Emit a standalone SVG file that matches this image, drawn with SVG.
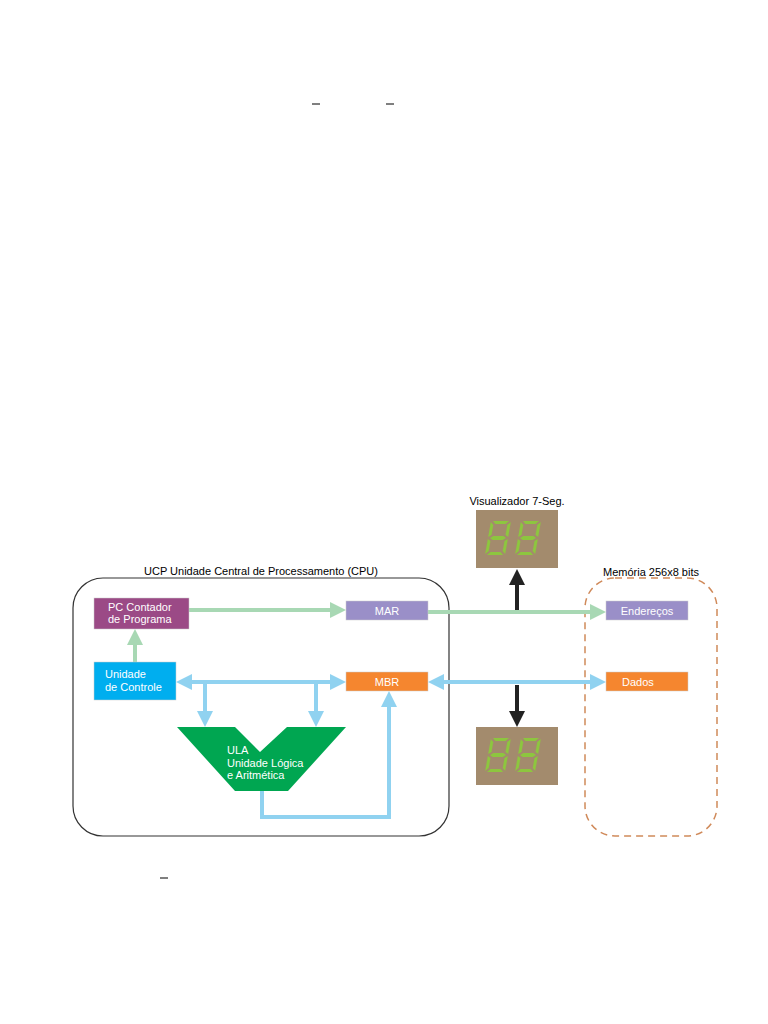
<svg xmlns="http://www.w3.org/2000/svg" width="768" height="1024" viewBox="0 0 768 1024">
<style>
text{font-family:"Liberation Sans",Arial,sans-serif;font-size:11px}
.w{fill:#fff}
.g{fill:none;stroke:#a8d8b4;stroke-width:4}
.b{fill:none;stroke:#90d2f0;stroke-width:4}
.k{fill:none;stroke:#222;stroke-width:4}
.seg{fill:#8dc63f}
</style>
<defs>
<marker id="ag" markerWidth="4" markerHeight="4" refX="3" refY="2" orient="auto" markerUnits="strokeWidth"><path d="M0,0L4,2L0,4z" fill="#a8d8b4"/></marker>
<marker id="ab" markerWidth="4" markerHeight="4" refX="3" refY="2" orient="auto-start-reverse" markerUnits="strokeWidth"><path d="M0,0L4,2L0,4z" fill="#90d2f0"/></marker>
<marker id="ak" markerWidth="4" markerHeight="4" refX="3" refY="2" orient="auto" markerUnits="strokeWidth"><path d="M0,0L4,2L0,4z" fill="#222"/></marker>
<g id="digit">
<g transform="skewX(-10)">
<polygon class="seg" points="3,0 19,0 16,3 6,3"/>
<polygon class="seg" points="3,17 6,15 16,15 19,17 16,19 6,19"/>
<polygon class="seg" points="3,34 19,34 16,31 6,31"/>
<polygon class="seg" points="1,1 4,4 4,14 1,16"/>
<polygon class="seg" points="21,1 18,4 18,14 21,16"/>
<polygon class="seg" points="1,18 4,20 4,30 1,33"/>
<polygon class="seg" points="21,18 18,20 18,30 21,33"/>
</g>
</g>
</defs>
<rect width="768" height="1024" fill="#fff"/>
<g stroke="#000" stroke-width="1"><line x1="312" y1="104" x2="320" y2="104"/><line x1="386" y1="104" x2="394" y2="104"/><line x1="160" y1="878" x2="168" y2="878"/></g>
<g id="cpu"><rect x="73" y="578" width="376" height="258" rx="30" fill="none" stroke="#333" stroke-width="1.2"/><text x="261" y="575" text-anchor="middle">UCP Unidade Central de Processamento (CPU)</text></g>
<g id="mem"><rect x="585" y="578" width="132" height="258" rx="30" fill="none" stroke="#d08a5a" stroke-width="1.5" stroke-dasharray="7,5"/><text x="651" y="576" text-anchor="middle">Memória 256x8 bits</text></g>
<g id="connectors">
<line class="g" x1="189" y1="610" x2="342" y2="610" marker-end="url(#ag)"/>
<line class="g" x1="135" y1="662" x2="135" y2="633" marker-end="url(#ag)"/>
<line class="g" x1="428" y1="612" x2="602" y2="612" marker-end="url(#ag)"/>
<line class="b" x1="180" y1="682" x2="342" y2="682" marker-start="url(#ab)" marker-end="url(#ab)"/>
<line class="b" x1="205" y1="682" x2="205" y2="723" marker-end="url(#ab)"/>
<line class="b" x1="316" y1="682" x2="316" y2="723" marker-end="url(#ab)"/>
<polyline class="b" points="262,791 262,817 389,817 389,695" marker-end="url(#ab)"/>
<line class="b" x1="432" y1="682" x2="602" y2="682" marker-start="url(#ab)" marker-end="url(#ab)"/>
<line class="k" x1="517" y1="610" x2="517" y2="573" marker-end="url(#ak)"/>
<line class="k" x1="517" y1="685" x2="517" y2="723" marker-end="url(#ak)"/>
</g>
<g id="pc"><rect x="94" y="598" width="95" height="31" fill="#9b4a86" stroke="#ccc" stroke-width="0.5"/><text class="w" x="108" y="611">PC Contador</text><text class="w" x="108" y="623">de Programa</text></g>
<g id="mar"><rect x="346" y="601" width="82" height="19" fill="#9a8fc8" stroke="#ccc" stroke-width="0.5"/><text class="w" x="387" y="615" text-anchor="middle">MAR</text></g>
<g id="uc"><rect x="94" y="662" width="82" height="38" fill="#00aeef" stroke="#ccc" stroke-width="0.5"/><text class="w" x="105" y="678">Unidade</text><text class="w" x="105" y="691">de Controle</text></g>
<g id="mbr"><rect x="346" y="672" width="82" height="19" fill="#f5862f" stroke="#ccc" stroke-width="0.5"/><text class="w" x="387" y="686" text-anchor="middle">MBR</text></g>
<g id="ula"><polygon points="177,727 235,727 260,752 287,727 346,727 288,791 235,791" fill="#00a651"/><text class="w" x="227" y="754">ULA</text><text class="w" x="227" y="767">Unidade Lógica</text><text class="w" x="227" y="779">e Aritmética</text></g>
<g id="end"><rect x="606" y="601" width="82" height="19" fill="#9a8fc8" stroke="#ccc" stroke-width="0.5"/><text class="w" x="647" y="615" text-anchor="middle">Endereços</text></g>
<g id="dados"><rect x="606" y="672" width="82" height="19" fill="#f5862f" stroke="#ccc" stroke-width="0.5"/><text class="w" x="622" y="686">Dados</text></g>
<g id="vis1"><text x="517" y="505" text-anchor="middle">Visualizador 7-Seg.</text><rect x="476" y="510" width="82" height="58" fill="#a38b6d"/><use href="#digit" x="490" y="521"/><use href="#digit" x="520" y="521"/></g>
<g id="vis2"><rect x="476" y="727" width="82" height="58" fill="#a38b6d"/><use href="#digit" x="490" y="738"/><use href="#digit" x="520" y="738"/></g>
</svg>
